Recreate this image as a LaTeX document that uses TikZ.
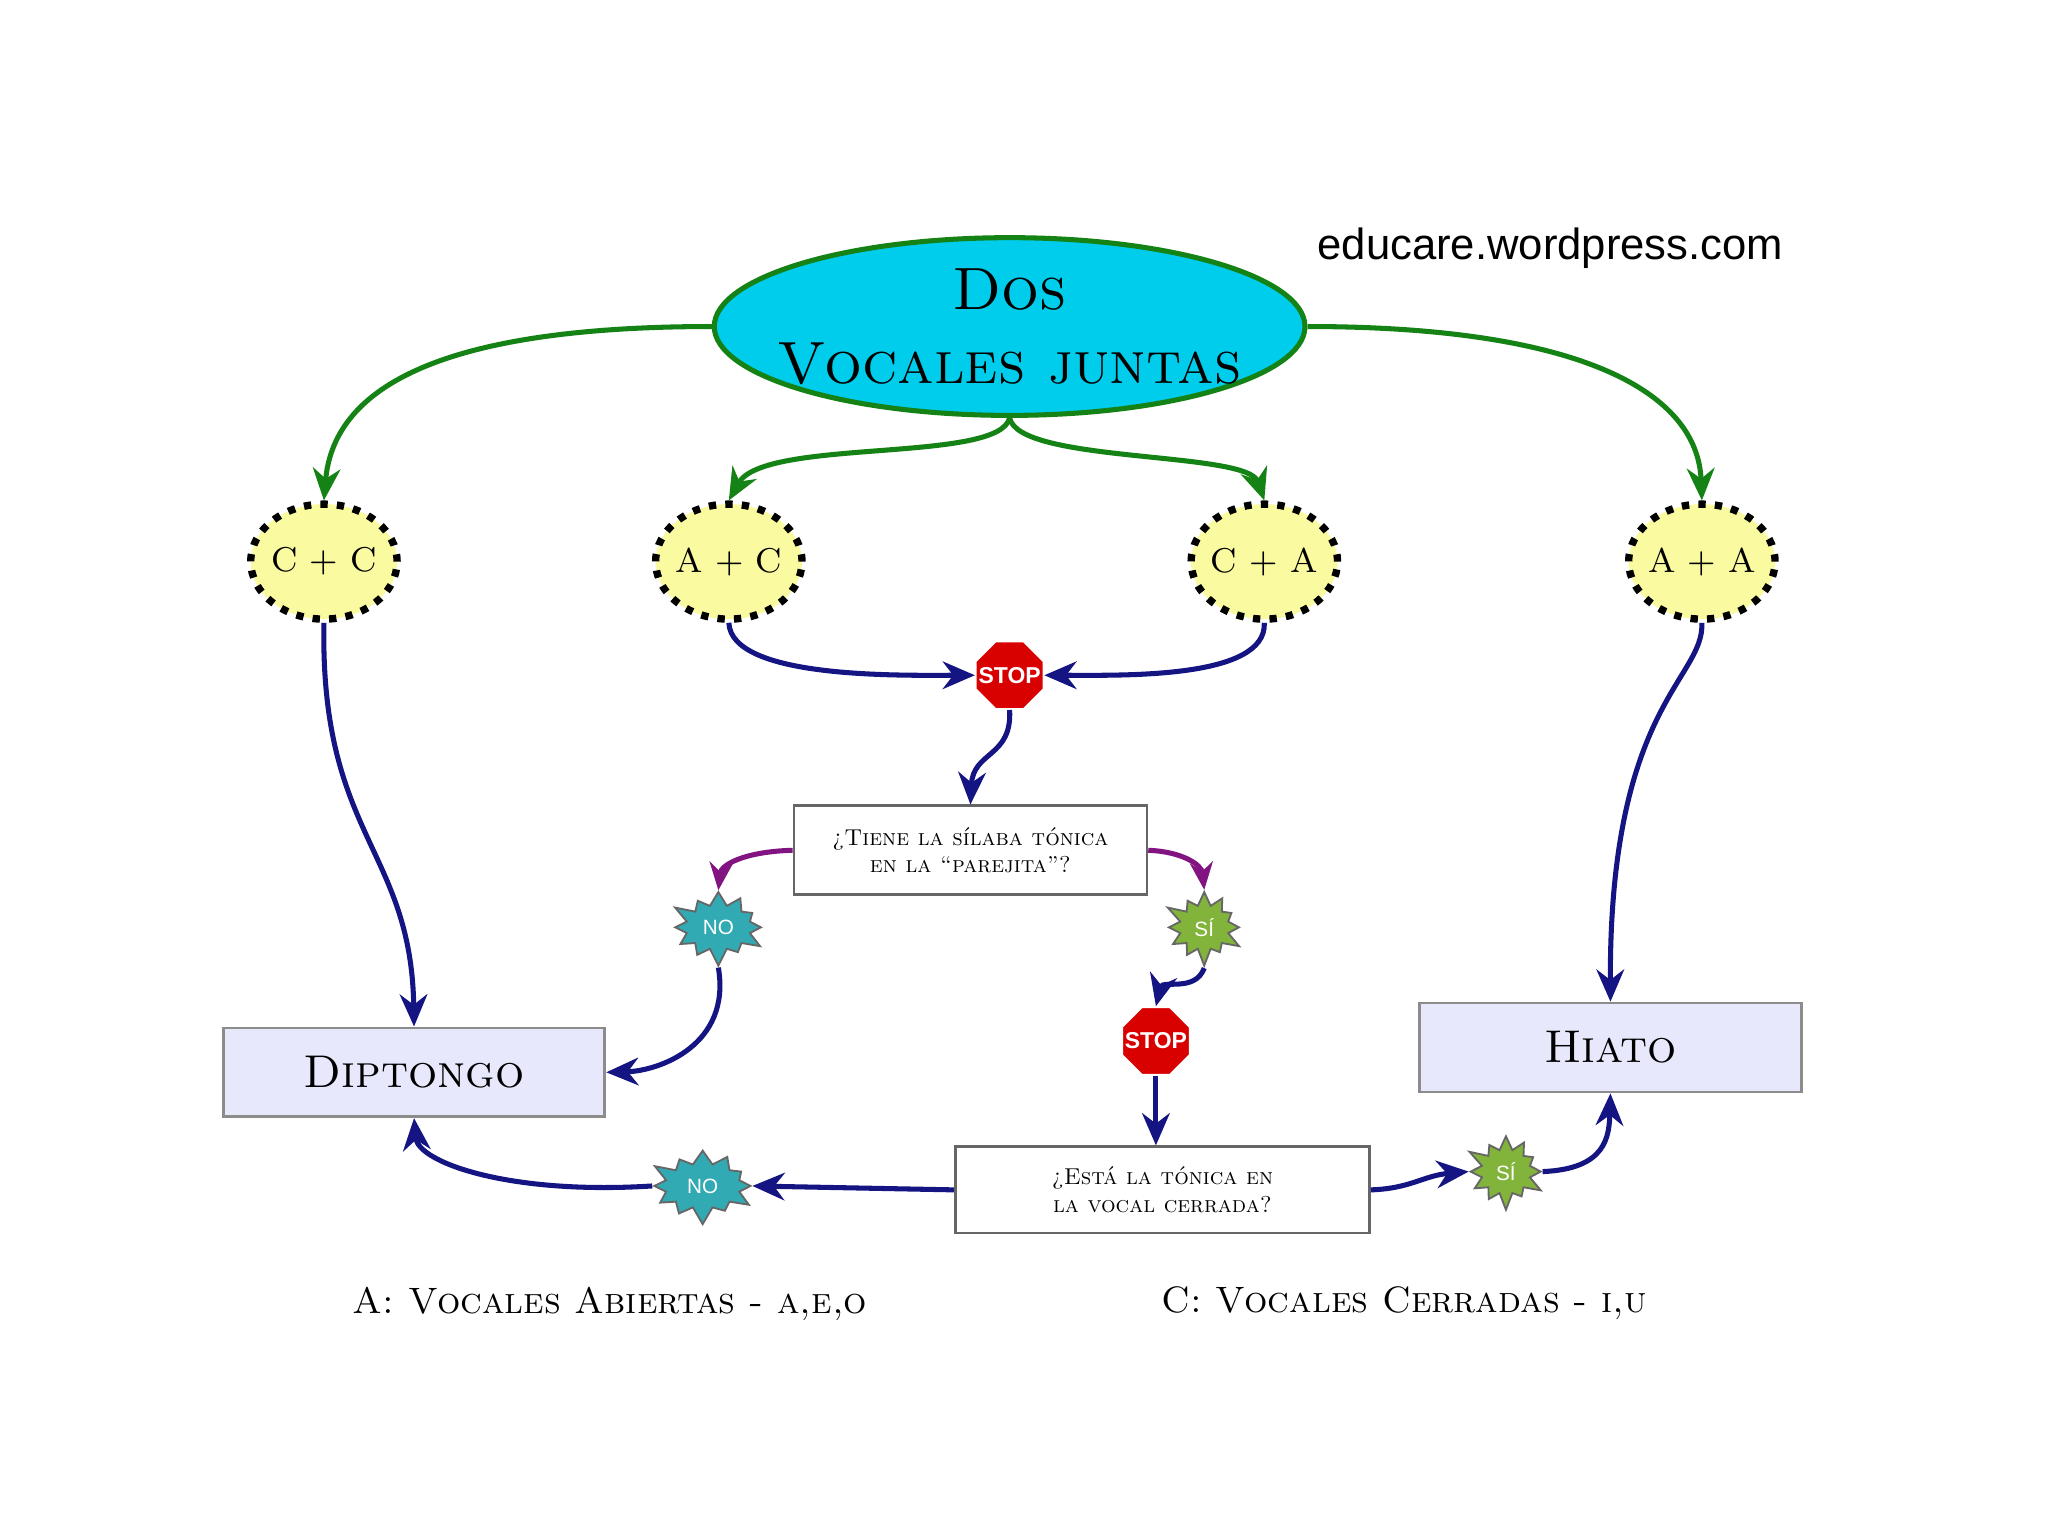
\documentclass[tikz,border=0pt]{standalone}
\usepackage{fontspec}
\newfontfamily\sansf{Liberation Sans}
\usetikzlibrary{shapes.geometric,shapes.symbols,arrows.meta}
\definecolor{navy}{RGB}{20,20,130}
\definecolor{grn}{RGB}{20,130,20}
\definecolor{cyanf}{RGB}{0,205,235}
\definecolor{yel}{RGB}{250,250,160}
\definecolor{boxf}{RGB}{232,232,252}
\definecolor{purp}{RGB}{130,20,130}
\definecolor{noc}{RGB}{50,170,180}
\definecolor{sic}{RGB}{130,180,60}
\tikzset{
 x=0.01cm,y=-0.01cm,
 pair/.style={ellipse,draw=black,fill=yel,line width=1.6pt,dotted,minimum width=1.12cm,minimum height=0.88cm,inner sep=0pt},
 ptxt/.style={font=\fontsize{7.5}{9}\selectfont,inner sep=0pt},
 res/.style={draw=black!45,fill=boxf,line width=0.6pt,minimum width=2.92cm,minimum height=0.68cm,font=\fontsize{10}{11}\selectfont\scshape},
 q/.style={draw=black!60,fill=white,line width=0.6pt,align=center,font=\fontsize{5}{6}\selectfont\scshape},
 stop/.style={regular polygon,regular polygon sides=8,fill=red!85!black,draw=white,minimum size=0.56cm,inner sep=0pt},
 stxt/.style={text=white,font=\sansf\bfseries\fontsize{5}{6}\selectfont,inner sep=0pt},
 star/.style={starburst,starburst points=12,starburst point height=0.14cm,draw=black!60,minimum width=0.78cm,minimum height=0.62cm,inner sep=0pt,font=\sansf\fontsize{4.5}{5}\selectfont,text=white},
 ga/.style={draw=grn,line width=1.1pt,-{Stealth[length=7pt,width=6pt]}},
 ba/.style={draw=navy,line width=1.1pt,-{Stealth[length=7pt,width=6pt]}},
 pa/.style={draw=purp,line width=1.1pt,-{Stealth[length=6pt,width=5pt]}}
}
\begin{document}
\begin{tikzpicture}
\useasboundingbox (0,0) rectangle (1568,1176);
\fill[white] (0,0) rectangle (1568,1176);
\node[ellipse,draw=grn,fill=cyanf,line width=1.1pt,minimum width=4.52cm,minimum height=1.36cm,inner sep=0pt] (t) at (773,250) {};
\node[align=center,font=\fontsize{13}{16}\selectfont\scshape] (tt) at (773,250) {Dos\\Vocales juntas};
\node[font=\sansf\fontsize{9.5}{11}\selectfont] (w) at (1187,190) {educare.wordpress.com};
\node[pair] (cc) at (248,430) {}; \node[ptxt] at (cc) {C + C};
\node[pair] (ac) at (558,430) {}; \node[ptxt] at (ac) {A + C};
\node[pair] (ca) at (968,430) {}; \node[ptxt] at (ca) {C + A};
\node[pair] (aa) at (1303,430) {}; \node[ptxt] at (aa) {A + A};
\node[stop] (s1) at (773,517) {}; \node[stxt] at (s1) {STOP};
\node[q,minimum width=2.7cm,minimum height=0.68cm] (q1) at (743,651) {¿Tiene la sílaba tónica\\en la ``parejita''?};
\node[star,fill=noc] (n1) at (550,710) {NO};
\node[star,fill=sic,minimum width=0.66cm] (y1) at (922,710) {SÍ};
\node[res] (d) at (317,821) {Diptongo};
\node[res] (h) at (1233,802) {Hiato};
\node[stop] (s2) at (885,797) {}; \node[stxt] at (s2) {STOP};
\node[q,minimum width=3.17cm,minimum height=0.66cm] (q2) at (890,911) {¿Está la tónica en\\la vocal cerrada?};
\node[star,fill=noc,minimum width=0.86cm] (n2) at (538,908) {NO};
\node[star,fill=sic,minimum width=0.66cm] (y2) at (1153,897) {SÍ};
\node[font=\fontsize{8}{10}\selectfont\scshape] (la) at (467,998) {A: Vocales Abiertas - a,e,o};
\node[font=\fontsize{8}{10}\selectfont\scshape] (lc) at (1075,998) {C: Vocales Cerradas - i,u};
\draw[ga] (t.west) .. controls (330,250) and (255,300) .. (cc.north);
\draw[ga] (t.east) .. controls (1210,250) and (1300,300) .. (aa.north);
\draw[ga] (t.south) .. controls (765,355) and (585,335) .. (ac.north);
\draw[ga] (t.south) .. controls (780,355) and (955,345) .. (ca.north);
\draw[ba] (ac.south) .. controls (560,520) and (690,517) .. (s1.west);
\draw[ba] (ca.south) .. controls (970,520) and (860,517) .. (s1.east);
\draw[ba] (s1.south) .. controls (775,580) and (745,575) .. (q1.north);
\draw[pa] (q1.west) .. controls (570,652) and (552,662) .. (n1.north);
\draw[pa] (q1.east) .. controls (905,652) and (920,662) .. (y1.north);
\draw[ba] (cc.south) .. controls (245,640) and (315,650) .. (d.north);
\draw[ba] (n1.south) .. controls (560,800) and (505,820) .. (d.east);
\draw[ba] (y1.south) .. controls (915,760) and (890,750) .. (s2.north);
\draw[ba] (s2.south) -- (q2.north-|s2);
\draw[ba] (q2.west) -- (n2.east);
\draw[ba] (n2.west) .. controls (390,915) and (320,890) .. (d.south);
\draw[ba] (q2.east) .. controls (1080,910) and (1090,900) .. (y2.west);
\draw[ba] (y2.east) .. controls (1230,895) and (1232,870) .. (h.south);
\draw[ba] (aa.south) .. controls (1305,520) and (1232,540) .. (h.north);
\end{tikzpicture}
\end{document}
